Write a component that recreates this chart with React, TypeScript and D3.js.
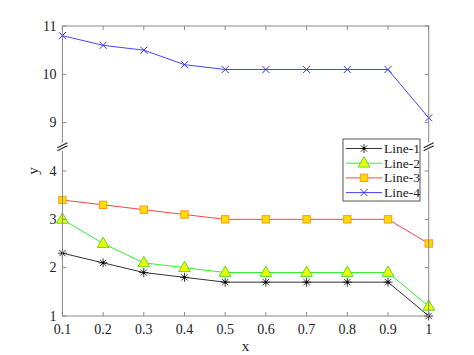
import React from "react";
import * as d3 from "d3";

const xValues = [0.1, 0.2, 0.3, 0.4, 0.5, 0.6, 0.7, 0.8, 0.9, 1.0];
const line1 = [2.3, 2.1, 1.9, 1.8, 1.7, 1.7, 1.7, 1.7, 1.7, 1.0];
const line2 = [3.0, 2.5, 2.1, 2.0, 1.9, 1.9, 1.9, 1.9, 1.9, 1.2];
const line3 = [3.4, 3.3, 3.2, 3.1, 3.0, 3.0, 3.0, 3.0, 3.0, 2.5];
const line4 = [10.8, 10.6, 10.5, 10.2, 10.1, 10.1, 10.1, 10.1, 10.1, 9.1];
const seriesNames = ["Line-1", "Line-2", "Line-3", "Line-4"];
const xTicks = [0.1, 0.2, 0.3, 0.4, 0.5, 0.6, 0.7, 0.8, 0.9, 1];
const yTickLabels = [1, 2, 3, 4, 9, 10, 11];

const W = 474, H = 355;
const L = 62.4, R = 428.7, T = 26, B = 316;
const font = "Liberation Serif, DejaVu Serif, serif";

// broken axis: values <=4 map directly, values >=9 shift by -4
const breakLow = 4, breakHigh = 9;
const toPos = (v: number) => (v <= breakLow ? v : v - (breakHigh - breakLow) + 1);

const x = d3.scaleLinear().domain([0.1, 1]).range([L, R]);
const yPos = d3.scaleLinear().domain([1, 7]).range([B, T]);
const y = (v: number) => yPos(toPos(v));

const styles = [
  { color: "#333333", marker: "star" },
  { color: "#33ee33", marker: "tri" },
  { color: "#ff4444", marker: "sq" },
  { color: "#4444ff", marker: "x" },
];

function Marker({ type, cx, cy }: { type: string; cx: number; cy: number }) {
  if (type === "star") {
    const r = 4.5;
    return (
      <g stroke="#222" strokeWidth={0.9}>
        <line x1={cx - r} y1={cy} x2={cx + r} y2={cy} />
        <line x1={cx} y1={cy - r} x2={cx} y2={cy + r} />
        <line x1={cx - r * 0.7} y1={cy - r * 0.7} x2={cx + r * 0.7} y2={cy + r * 0.7} />
        <line x1={cx - r * 0.7} y1={cy + r * 0.7} x2={cx + r * 0.7} y2={cy - r * 0.7} />
        <circle cx={cx} cy={cy} r={1.3} fill="#000" stroke="none" />
      </g>
    );
  }
  if (type === "tri") {
    const s = 6.5;
    return (
      <path
        d={`M${cx},${cy - s} L${cx + s * 0.9},${cy + s * 0.6} L${cx - s * 0.9},${cy + s * 0.6} Z`}
        fill="#eeff00"
        stroke="#55dd33"
        strokeWidth={1}
      />
    );
  }
  if (type === "sq") {
    const s = 3.7;
    return (
      <rect x={cx - s} y={cy - s} width={2 * s} height={2 * s} fill="#ffdd00" stroke="#ff9922" strokeWidth={1} />
    );
  }
  const r = 3.5;
  return (
    <g stroke="#3333ee" strokeWidth={1}>
      <line x1={cx - r} y1={cy - r} x2={cx + r} y2={cy + r} />
      <line x1={cx - r} y1={cy + r} x2={cx + r} y2={cy - r} />
    </g>
  );
}

export default function App() {
  const data = [line1, line2, line3, line4];
  const lineGen = d3
    .line<number>()
    .x((_, i) => x(xValues[i]))
    .y((d) => y(d));
  const breakY = yPos(4.5);
  const axisColor = "#888";
  const legX = 343, legY = 139, legW = 77, legH = 62;
  const ts = { fontFamily: font };
  return (
    <svg width={W} height={H} style={{ position: "absolute", left: 0, top: 0, fontFamily: font }}>
      <rect x={0} y={0} width={W} height={H} fill="#fff" />
      {data.map((s, k) => (
        <path key={k} d={lineGen(s) || ""} fill="none" stroke={styles[k].color} strokeWidth={1} />
      ))}
      {data.map((s, k) =>
        s.map((v, i) => <Marker key={k + "-" + i} type={styles[k].marker} cx={x(xValues[i])} cy={y(v)} />)
      )}
      {/* axes box */}
      <rect x={L} y={T} width={R - L} height={B - T} fill="none" stroke={axisColor} strokeWidth={1} />
      {xTicks.map((t) => (
        <g key={"xt" + t}>
          <line x1={x(t)} x2={x(t)} y1={B} y2={B - 4} stroke={axisColor} />
          <line x1={x(t)} x2={x(t)} y1={T} y2={T + 4} stroke={axisColor} />
          <text x={x(t)} y={B + 18} textAnchor="middle" fontSize={14} fill="#222" style={ts}>
            {String(t)}
          </text>
        </g>
      ))}
      {yTickLabels.map((t) => (
        <g key={"yt" + t}>
          <line x1={L} x2={L + 4} y1={y(t)} y2={y(t)} stroke={axisColor} />
          <line x1={R} x2={R - 4} y1={y(t)} y2={y(t)} stroke={axisColor} />
          <text x={L - 6} y={y(t) + 4.5} textAnchor="end" fontSize={14} fill="#222" style={ts}>
            {t}
          </text>
        </g>
      ))}
      {/* break marks */}
      {[L, R].map((bx) => (
        <g key={"br" + bx}>
          <rect x={bx - 5} y={breakY - 4} width={10} height={8} fill="#fff" />
          <line x1={bx - 5} y1={breakY + 1} x2={bx + 5} y2={breakY - 4} stroke="#222" strokeWidth={1.1} />
          <line x1={bx - 5} y1={breakY + 4} x2={bx + 5} y2={breakY - 1} stroke="#222" strokeWidth={1.1} />
        </g>
      ))}
      <text x={(L + R) / 2} y={351} textAnchor="middle" fontSize={15} fill="#222" style={ts}>
        x
      </text>
      <text
        x={0}
        y={0}
        transform={`translate(38, ${(T + B) / 2}) rotate(-90)`}
        textAnchor="middle"
        fontSize={15}
        fill="#222"
        style={ts}
      >
        y
      </text>
      {/* legend */}
      <rect x={legX} y={legY} width={legW} height={legH} fill="#fff" stroke="#555" strokeWidth={1} />
      {seriesNames.map((n, k) => {
        const ly = legY + 9.5 + k * 14.7;
        return (
          <g key={n}>
            <line x1={legX + 3} x2={legX + 39} y1={ly} y2={ly} stroke={styles[k].color} />
            <Marker type={styles[k].marker} cx={legX + 21} cy={ly} />
            <text x={legX + 41} y={ly + 4.5} fontSize={13.5} fill="#222" style={ts}>
              {n}
            </text>
          </g>
        );
      })}
    </svg>
  );
}
